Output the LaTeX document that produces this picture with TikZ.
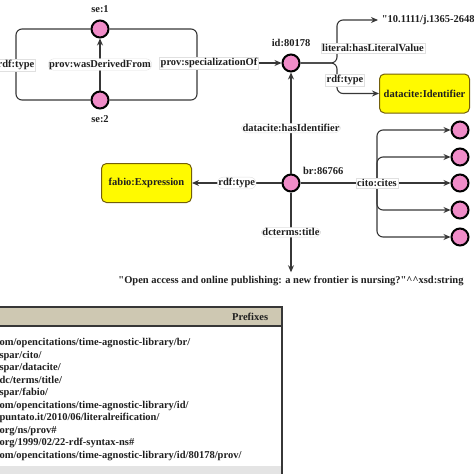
\documentclass[tikz,border=0pt]{standalone}
\usepackage{fontspec}
\setmainfont{Liberation Serif}[Ligatures=TeXOff]
\usetikzlibrary{arrows.meta}
\definecolor{rdfpink}{RGB}{240,140,200}
\definecolor{rdfyellow}{RGB}{255,250,0}
\definecolor{rdfolive}{RGB}{115,95,10}
\definecolor{rdfline}{RGB}{55,55,55}
\definecolor{rdfhead}{RGB}{206,200,178}
\definecolor{rdffoot}{RGB}{228,228,228}

\begin{document}
\begin{tikzpicture}[x=1pt,y=-1pt,line width=1.1pt,
  font=\fontsize{10.5}{12.5}\selectfont\bfseries,text=black!88,
  res/.style={circle,draw=black,line width=2pt,fill=rdfpink,minimum size=17pt,inner sep=0pt},
  cls/.style={rounded corners=5pt,draw=rdfolive,fill=rdfyellow,line width=1pt,
    minimum width=90pt,minimum height=39pt},
  lbl/.style={fill=white,draw=black!12,line width=0.4pt,inner sep=1pt},
  edge/.style={draw=rdfline,rounded corners=6pt},
  arr/.style={edge,-{Stealth[length=7pt,width=6pt]}}]
  \useasboundingbox (0,0) rectangle (474,474);
  \clip (0,0) rectangle (474,474);

  \node[res,label={[label distance=3pt]above:se:1}] (se1) at (100,29) {};
  \node[res,label={[label distance=2pt]below:se:2}] (se2) at (100,100) {};
  \node[res,label={[label distance=3pt]above:id:80178}] (id) at (291,63) {};
  \node[res,label={[label distance=0pt]30:br:86766}] (br) at (291,183) {};
  \node[cls] (dcid) at (424.5,93.5) {datacite:Identifier};
  \node[cls] (fabio) at (146.5,183) {fabio:Expression};
  \node[anchor=west] (lit) at (378,20) {"10.1111/j.1365-2648};
  \node (title) at (291,281)
    {"Open access and online publishing: a new frontier is nursing?"\textasciicircum\textasciicircum xsd:string};

  \node[res] (c1) at (460,130) {};
  \node[res] (c2) at (460,157) {};
  \node[res] (c3) at (460,183) {};
  \node[res] (c4) at (460,210) {};
  \node[res] (c5) at (460,237) {};

  \coordinate (rt) at (16,65);
  \coordinate (rtend) at (-30,65);
  \coordinate (sp) at (197,63);
  \coordinate (idsp) at (337,63);
  \coordinate (cc) at (377,183);

  \draw[edge] (se1) -| (rt);
  \draw[edge] (se2) -| (rt);
  \draw[arr] (rt) -- (rtend);
  \draw[edge] (se1) -| (sp);
  \draw[edge] (se2) -| (sp);
  \draw[arr] (sp) -- (id);
  \draw[arr] (se2) -- node[lbl]{prov:wasDerivedFrom} (se1);
  \draw[arr] (id) -- (idsp) |- (lit);
  \draw[arr] (id) -- (idsp) |- (dcid);
  \draw[arr] (br) -- node[lbl,pos=0.45]{datacite:hasIdentifier} (id);
  \draw[arr] (br) -- node[lbl]{rdf:type} (fabio);
  \draw[arr] (br) -- node[lbl]{dcterms:title} (title);
  \draw[edge] (br) -- (cc);
  \draw[arr] (cc) |- (c1);
  \draw[arr] (cc) |- (c2);
  \draw[arr] (cc) -- (c3);
  \draw[arr] (cc) |- (c4);
  \draw[arr] (cc) |- (c5);

  \node[lbl] (rtl) at (rt) {rdf:type};
  \node[lbl] (spl) at (209,63) {prov:specializationOf};
  \node[lbl] (litl) at (373,48) {literal:hasLiteralValue};
  \node[lbl] (dctl) at (345,80) {rdf:type};
  \node[lbl] (ccl) at (cc) {cito:cites};

  \draw[rdfline,fill=rdfhead] (-10,307) rectangle (282,326);
  \fill[rdffoot] (-10,466) rectangle (282,480);
  \draw[rdfline] (-10,307) rectangle (282,480);
  \node[anchor=east] (pfxhead) at (272,317) {Prefixes};
  \node[anchor=base west,inner sep=0pt] (pfx1) at (-1,345.5) {om/opencitations/time-agnostic-library/br/};
  \node[anchor=base west,inner sep=0pt] (pfx2) at (-1,358) {spar/cito/};
  \node[anchor=base west,inner sep=0pt] (pfx3) at (-1,370.5) {spar/datacite/};
  \node[anchor=base west,inner sep=0pt] (pfx4) at (-1,383) {dc/terms/title/};
  \node[anchor=base west,inner sep=0pt] (pfx5) at (-1,395.5) {spar/fabio/};
  \node[anchor=base west,inner sep=0pt] (pfx6) at (-1,408) {om/opencitations/time-agnostic-library/id/};
  \node[anchor=base west,inner sep=0pt] (pfx7) at (-1,420.5) {puntato.it/2010/06/literalreification/};
  \node[anchor=base west,inner sep=0pt] (pfx8) at (-1,433) {org/ns/prov\#};
  \node[anchor=base west,inner sep=0pt] (pfx9) at (-1,445.5) {org/1999/02/22-rdf-syntax-ns\#};
  \node[anchor=base west,inner sep=0pt] (pfx10) at (-1,458) {om/opencitations/time-agnostic-library/id/80178/prov/};
\end{tikzpicture}
\end{document}
